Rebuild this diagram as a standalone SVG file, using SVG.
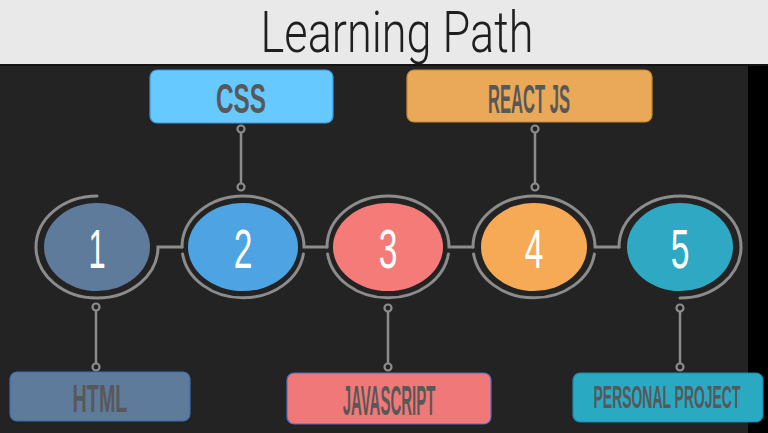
<svg xmlns="http://www.w3.org/2000/svg" width="768" height="433" viewBox="0 0 768 433">
<defs>
<style>
.ring{fill:none;stroke:#8c8c8c;stroke-width:3;stroke-linecap:round}
.stem{fill:none;stroke:#8c8c8c;stroke-width:2.5}
.dot{fill:#232323;stroke:#8c8c8c;stroke-width:2.2}
.num{fill:#ffffff;font-family:"Liberation Sans",Arial,sans-serif;font-size:56px;text-anchor:middle}
.lbl{fill:#585858;font-family:"Liberation Sans",Arial,sans-serif;font-weight:bold;text-anchor:middle}
</style>
</defs>
<rect x="0" y="0" width="768" height="433" fill="#232323"/>
<rect x="748" y="65" width="20" height="368" fill="#000000"/>
<rect x="0" y="0" width="768" height="65" fill="#e9e9e9"/>
<rect x="0" y="64" width="768" height="2" fill="#141414"/>
<text transform="translate(397,52) scale(0.79,1)" font-family="Roboto,'Liberation Sans',Arial,sans-serif" font-weight="300" font-size="57" fill="#1f1f1f" text-anchor="middle">Learning Path</text>

<g id="connectors">
<path class="ring" d="M97,196 A61,51 0 1 0 158,247 L182,247"/>
<path class="ring" d="M182,247 A61,51 0 0 1 304,247 L327,247"/>
<path class="ring" d="M182.6,254 A61,51 0 0 0 303.4,254"/>
<path class="ring" d="M327,247 A61,51 0 0 1 449,247 L473,247"/>
<path class="ring" d="M327.6,254 A61,51 0 0 0 448.4,254"/>
<path class="ring" d="M473,247 A61,51 0 0 1 595,247 L619,247"/>
<path class="ring" d="M473.6,254 A61,51 0 0 0 594.4,254"/>
<path class="ring" d="M619,247 A61,51 0 1 1 680,298"/>
<line class="stem" x1="241" y1="129" x2="241" y2="187"/>
<circle class="dot" cx="241" cy="129" r="3.5"/>
<circle class="dot" cx="241" cy="187" r="3.5"/>
<line class="stem" x1="535" y1="129" x2="535" y2="187"/>
<circle class="dot" cx="535" cy="129" r="3.5"/>
<circle class="dot" cx="535" cy="187" r="3.5"/>
<line class="stem" x1="96" y1="307" x2="96" y2="367"/>
<circle class="dot" cx="96" cy="307" r="3.5"/>
<circle class="dot" cx="96" cy="367" r="3.5"/>
<line class="stem" x1="388" y1="308" x2="388" y2="367"/>
<circle class="dot" cx="388" cy="308" r="3.5"/>
<circle class="dot" cx="388" cy="367" r="3.5"/>
<line class="stem" x1="680" y1="308" x2="680" y2="367"/>
<circle class="dot" cx="680" cy="308" r="3.5"/>
<circle class="dot" cx="680" cy="367" r="3.5"/>
</g>

<g id="step1">
<ellipse cx="97" cy="247" rx="53" ry="44" fill="#5f7b9b"/>
<text class="num" transform="translate(97,268) scale(0.55,1)">1</text>
</g>
<g id="step2">
<ellipse cx="243" cy="247" rx="55" ry="44" fill="#4ea3e2"/>
<text class="num" transform="translate(243,268) scale(0.6,1)">2</text>
</g>
<g id="step3">
<ellipse cx="388" cy="247" rx="55" ry="44" fill="#f47b78"/>
<text class="num" transform="translate(388,268) scale(0.6,1)">3</text>
</g>
<g id="step4">
<ellipse cx="534" cy="247" rx="53" ry="44" fill="#f6aa55"/>
<text class="num" transform="translate(534,268) scale(0.6,1)">4</text>
</g>
<g id="step5">
<ellipse cx="680" cy="247" rx="53" ry="44" fill="#2fa9c3"/>
<text class="num" transform="translate(680,268) scale(0.6,1)">5</text>
</g>

<g id="css">
<rect x="150" y="70" width="183" height="53" rx="7" fill="#66c9ff" stroke="#3d97d6" stroke-width="1.2"/>
<text class="lbl" transform="translate(241,113) scale(0.566,1)" font-size="43">CSS</text>
</g>
<g id="reactjs">
<rect x="407" y="70" width="245" height="52" rx="7" fill="#e9a959" stroke="#c88a28" stroke-width="1.2"/>
<text class="lbl" transform="translate(529,113) scale(0.405,1)" font-size="41">REACT JS</text>
</g>
<g id="html">
<rect x="10" y="372" width="180" height="49" rx="7" fill="#5f7b9b" stroke="#3d6cb4" stroke-width="1.2"/>
<text class="lbl" transform="translate(100,412) scale(0.52,1)" font-size="38">HTML</text>
</g>
<g id="javascript">
<rect x="287" y="373" width="204" height="51" rx="7" fill="#f07878" stroke="#4a70c8" stroke-width="1.2"/>
<text class="lbl" transform="translate(389,415) scale(0.357,1)" font-size="42">JAVASCRIPT</text>
</g>
<g id="personalproject">
<rect x="573" y="373" width="190" height="49" rx="7" fill="#2aa9c3" stroke="#1e8aa4" stroke-width="1.2"/>
<text class="lbl" transform="translate(667,408) scale(0.45,1)" font-size="31">PERSONAL PROJECT</text>
</g>
</svg>
